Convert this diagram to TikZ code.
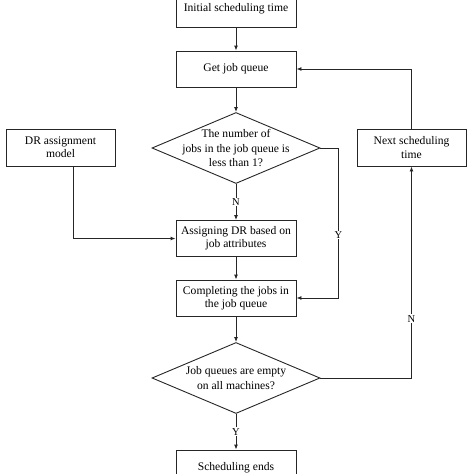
\documentclass[tikz,border=0pt]{standalone}
\usepackage{fontspec}
\setmainfont{Liberation Serif}
\usetikzlibrary{shapes.geometric,arrows.meta}
\begin{document}
\begin{tikzpicture}[x=1pt,y=-1pt, line width=0.9pt, draw=black!85,
 box/.style={draw, minimum width=120pt, minimum height=36pt, align=center, inner sep=1pt, font=\fontsize{11.6}{13.2}\selectfont},
 sbox/.style={box, minimum width=109pt, minimum height=37pt},
 dia/.style={draw, diamond, minimum width=168pt, minimum height=71pt, inner sep=0pt},
 lbl/.style={font=\fontsize{11.6}{14.3}\selectfont, align=center},
 arr/.style={-{Latex[length=5pt,width=4pt]}},
 yn/.style={fill=white, inner sep=1pt, font=\fontsize{10.5}{11}\selectfont}]
\useasboundingbox (0,0) rectangle (474,474);
\clip (0,0) rectangle (474,474);
\node[box] (init) at (236,9) {Initial scheduling time};
\node[box] (get) at (236,69) {Get job queue};
\node[dia, label={[lbl]center:The number of\\jobs in the job queue is\\less than 1?}] (d1) at (236,148) {};
\node[sbox] (dr) at (60.5,147.5) {DR assignment\\model};
\node[sbox] (next) at (411.5,147.5) {Next scheduling\\time};
\node[box] (assign) at (236,238.5) {Assigning DR based on\\job attributes};
\node[box] (comp) at (236,298) {Completing the jobs in\\the job queue};
\node[dia, label={[lbl]center:Job queues are empty\\on all machines?}] (d2) at (236,378) {};
\node[box] (end) at (236,468) {Scheduling ends};
\draw[arr] (init) -- (get);
\draw[arr] (get) -- (d1);
\draw[arr] (d1) -- node[yn]{N} (assign);
\draw[arr] (assign) -- (comp);
\draw[arr] (comp) -- (d2);
\draw[arr] (d2) -- node[yn]{Y} (end);
\draw[arr] ([xshift=12.5pt]dr.south) |- (assign.west);
\draw[arr] (d1.east) -- ++(18,0) |- node[yn,pos=0.29]{Y} (comp.east);
\draw[arr] (d2.east) -| node[yn,pos=0.64]{N} (next.south);
\draw[arr] (next.north) |- (get.east);
\end{tikzpicture}
\end{document}
